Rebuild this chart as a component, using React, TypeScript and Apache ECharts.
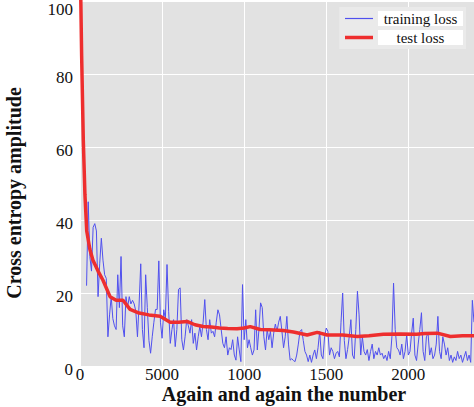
import React, { useEffect, useRef } from "react";
import * as echarts from "echarts";

// Iteration spacing of the training-loss samples and the first sampled iteration.
const trainStart = 40;
const trainStep = 10;

// Training loss, one value every 10 iterations from iteration 40.
const trainingLoss = [
  22, 45, 30, 26, 38, 39, 37, 19, 28, 35, 29, 25, 24, 8, 14, 19, 13, 11, 10, 25,
  16, 30, 11, 8, 19, 16, 19, 17, 18, 17, 15, 8, 17, 28, 10, 5, 25, 16, 7, 3.5,
  8, 12, 15.5, 15.5, 28.8, 12, 7.6, 15.4, 13, 27.8, 15, 6.2, 10, 12.7, 5.3, 10, 21, 21.4, 7.2, 4.4,
  8, 12.7, 11, 9, 12.7, 6.2, 9, 4.4, 8, 10.8, 8, 12, 18.2, 10, 7.2, 12.7, 9, 9.5, 8, 12,
  15.4, 14, 10, 6.2, 5, 8, 3, 5, 4.5, 7.2, 3, 1.6, 8, 4.4, 1.2, 22.3, 7.2, 12.7, 5, 7.2,
  5, 3, 4.4, 15.4, 4.4, 10, 17.3, 16, 8, 4.4, 10, 7.2, 9.5, 5, 9, 11.5, 9.5, 12, 13.6, 9.5,
  5, 8, 13.6, 6, 1.6, 2, 1.5, 1.2, 3, 6, 9.5, 10, 7, 4, 3, 1.2, 3, 1, 3, 4.4,
  2, 5, 9.5, 3, 2, 8, 10.4, 9.5, 3, 5, 4, 2, 3.5, 4, 2.5, 12, 20, 7, 2, 4.5,
  8, 12.7, 3, 2, 10, 20.5, 14, 3, 8, 4, 3, 4.5, 1.5, 4, 6, 2, 4, 3, 5, 3,
  3.5, 2, 3, 1.5, 4, 2, 8, 22.7, 10, 5, 4.4, 3, 6, 2, 4, 8.5, 3, 4, 9, 13.1,
  3, 1.5, 6, 10, 14.6, 4, 1.5, 8, 9, 3, 5, 2, 3, 6, 13.6, 4, 2, 8, 6, 3,
  5, 1.5, 3, 1, 2.5, 1.5, 4, 2, 3, 1, 2.5, 4, 1.5, 3, 1, 18, 12,
];

// Test loss, evaluated at these iterations.
const testIterations = [
  0, 5, 10, 20, 30, 41, 60, 79, 110, 140, 183, 220, 262, 305, 360, 420, 488, 549, 600, 652,
  700, 750, 800, 850, 900, 957, 1000, 1037, 1098, 1150, 1238, 1300, 1384, 1445, 1506, 1600, 1689, 1760, 1848, 1950,
  2050, 2100, 2177, 2256, 2330, 2400,
];
const testLoss = [
  112, 100, 85, 62, 47, 37, 32, 29, 26, 23.5, 19, 18, 18, 15.5, 14.5, 14, 13.6, 12, 12, 12.2,
  11.3, 10.8, 10.7, 10.4, 10.3, 10.2, 10.4, 10.8, 10, 9.9, 9.7, 9.3, 8.5, 9.2, 8.5, 8.5, 8.1, 8.3, 8.7, 8.8,
  8.7, 8.9, 9, 8.1, 8.3, 8.3,
];

// Axis ticks and the text printed under each x tick.
const xTicks = [0, 500, 1000, 1500, 2000];
const xTickLabels = ["0", "5000", "1000", "1500", "2000"];
const yTicks = [0, 20, 40, 60, 80, 100];

const seriesNames = ["training loss", "test loss"];
const xTitle = "Again and again the number";
const yTitle = "Cross entropy amplitude";

const SERIF = "'Liberation Serif', 'DejaVu Serif', serif";
const BLUE = "#5050ee";
const RED = "#ee2e2e";

export default function App() {
  const ref = useRef<HTMLDivElement>(null);

  useEffect(() => {
    document.body.style.margin = "0";
    if (!ref.current) return;
    const chart = echarts.init(ref.current, undefined, { renderer: "svg" });

    const trainData = trainingLoss.map((v, i) => [trainStart + i * trainStep, v]);
    const testData = testLoss.map((v, i) => [testIterations[i], v]);

    chart.setOption({
      animation: false,
      backgroundColor: "#ffffff",
      grid: {
        left: 80,
        right: 0,
        top: 1,
        bottom: 41,
        show: true,
        backgroundColor: "#e2e2e2",
        borderWidth: 0,
        containLabel: false,
      },
      legend: {
        orient: "vertical",
        right: 8,
        top: 7,
        backgroundColor: "#eaeaea",
        padding: [4, 3, 4, 4],
        itemWidth: 28,
        itemHeight: 12,
        itemGap: 4,
        itemStyle: { opacity: 0 },
        data: [
          { name: seriesNames[0], lineStyle: { color: BLUE, width: 1.2 } },
          { name: seriesNames[1], lineStyle: { color: RED, width: 3.5 } },
        ],
        formatter: (name: string) => `{w|${name}}`,
        textStyle: {
          rich: {
            w: {
              width: 85,
              height: 15,
              align: "center",
              backgroundColor: "#ffffff",
              fontFamily: SERIF,
              fontSize: 15,
              color: "#111",
            },
          },
        },
      },
      xAxis: {
        type: "value",
        min: 0,
        max: 2400,
        interval: 500,
        axisLine: { show: false },
        axisTick: { show: false },
        splitLine: { show: true, lineStyle: { color: "#ffffff", width: 1 } },
        axisLabel: {
          margin: 1,
          fontFamily: SERIF,
          fontSize: 17,
          lineHeight: 15,
          color: "#111",
          showMaxLabel: false,
          formatter: (v: number) => {
            const i = xTicks.indexOf(v);
            return i >= 0 ? xTickLabels[i] : "";
          },
        },
      },
      yAxis: {
        type: "value",
        min: 0,
        max: 100,
        interval: 20,
        axisLine: { show: false },
        axisTick: { show: false },
        splitLine: { show: true, lineStyle: { color: "#ffffff", width: 1 } },
        axisLabel: {
          margin: 7,
          color: "#111",
          formatter: (v: number) =>
            yTicks.includes(v) ? (v === 100 ? `{t|${v}}` : `{n|${v}}`) : "",
          rich: {
            n: { fontFamily: SERIF, fontSize: 17, color: "#111", padding: [6, 0, 0, 0] },
            t: { fontFamily: SERIF, fontSize: 17, color: "#111", padding: [16, 0, 0, 0] },
          },
        },
      },
      graphic: [
        {
          type: "text",
          x: 284,
          y: 394,
          style: {
            text: xTitle,
            fontFamily: SERIF,
            fontWeight: "bold",
            fontSize: 20,
            lineHeight: 18,
            fill: "#111",
            align: "center",
            verticalAlign: "middle",
          },
        },
        {
          type: "text",
          x: 14,
          y: 193,
          rotation: Math.PI / 2,
          style: {
            text: yTitle,
            fontFamily: SERIF,
            fontWeight: "bold",
            fontSize: 20,
            fill: "#111",
            align: "center",
            verticalAlign: "middle",
          },
        },
      ],
      series: [
        {
          name: seriesNames[0],
          type: "line",
          data: trainData,
          symbol: "none",
          clip: true,
          lineStyle: { color: BLUE, width: 1 },
          itemStyle: { color: BLUE },
          z: 2,
        },
        {
          name: seriesNames[1],
          type: "line",
          data: testData,
          symbol: "none",
          clip: true,
          lineStyle: { color: RED, width: 3.5 },
          itemStyle: { color: RED },
          z: 3,
        },
      ],
    });

    return () => chart.dispose();
  }, []);

  return <div ref={ref} style={{ width: 474, height: 407 }} />;
}
